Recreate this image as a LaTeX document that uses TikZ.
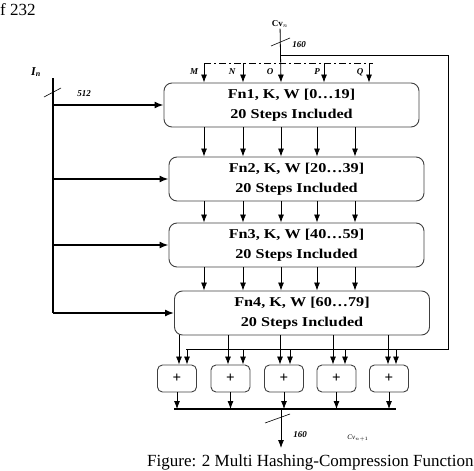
\documentclass[tikz,border=0pt]{standalone}
\usepackage{fontspec}
\setmainfont{Liberation Serif}
\usetikzlibrary{arrows.meta,calc}
\tikzstyle{fnbox}=[rectangle, rounded corners=8pt, draw=black!75, line width=0.9pt, minimum width=255pt, minimum height=44pt, inner sep=0pt, align=center, font=\fontsize{13.5}{20}\selectfont\bfseries\addfontfeature{FakeStretch=1.2}]
\tikzstyle{adder}=[rectangle, rounded corners=5pt, draw=black!75, line width=0.9pt, minimum width=39pt, minimum height=27pt, inner sep=0pt, font=\fontsize{15}{15}\selectfont\bfseries]
\tikzstyle{flow}=[-{Latex[length=8pt,width=6pt]}, line width=0.8pt]
\tikzstyle{feed}=[-{Latex[length=9pt,width=7pt]}, line width=1.6pt]
\tikzstyle{annot}=[inner sep=1pt, font=\fontsize{9}{9}\selectfont\bfseries\itshape]
\tikzstyle{pagetext}=[inner sep=0pt, anchor=base west, font=\fontsize{17}{17}\selectfont]

\begin{document}
\begin{tikzpicture}[x=1pt, y=-1pt]
	\useasboundingbox (0,0) rectangle (474,471);

	\node[pagetext] (page) at (0,15) {f 232};

	% the four rounds
	\node[fnbox] (fn1) at (291.5,105) {Fn1, K, W [0\ldots19]\\20 Steps Included};
	\node[fnbox] (fn2) at (296.5,179) {Fn2, K, W [20\ldots39]\\20 Steps Included};
	\node[fnbox] (fn3) at (296.5,245) {Fn3, K, W [40\ldots59]\\20 Steps Included};
	\node[fnbox] (fn4) at (302,313) {Fn4, K, W [60\ldots79]\\20 Steps Included};

	% adders
	\node[adder] (add1) at (177,378.5) {+};
	\node[adder] (add2) at (230.5,378.5) {+};
	\node[adder] (add3) at (284,378.5) {+};
	\node[adder] (add4) at (336.5,378.5) {+};
	\node[adder] (add5) at (389,378.5) {+};

	% chaining input
	\node[annot, font=\fontsize{9}{9}\selectfont\bfseries] (cvn) at (280,24) {Cv$_{n}$};
	\coordinate (split) at (281,55);
	\coordinate (ret) at (448,349);
	\draw[flow] (cvn) -- (fn1.north -| split);
	\draw[line width=0.6pt] (271,46) -- (290,38);
	\node[annot] (w160) at (299,45) {160};
	\draw[line width=0.8pt] (split) -| (ret) -- (186,349);

	% message words
	\draw[line width=0.7pt, dash pattern=on 7pt off 3pt on 2pt off 3pt] (204,63) -- (373,63);
	\draw[flow] (204,63) -- (fn1.north -| 204,0);
	\draw[flow] (243,63) -- (fn1.north -| 243,0);
	\draw[flow] (324,63) -- (fn1.north -| 324,0);
	\draw[flow] (369,63) -- (fn1.north -| 369,0);
	\node[annot] (wm) at (194,72) {M};
	\node[annot] (wn) at (232,72) {N};
	\node[annot] (wo) at (270,72) {O};
	\node[annot] (wp) at (317,72) {P};
	\node[annot] (wq) at (360,72) {Q};

	% between rounds
	\foreach \x in {204,243,281,317,355}
	{
		\draw[flow] (fn1.south -| \x,0) -- (fn2.north -| \x,0);
		\draw[flow] (fn2.south -| \x,0) -- (fn3.north -| \x,0);
		\draw[flow] (fn3.south -| \x,0) -- (fn4.north -| \x,0);
	}

	% message block
	\node[font=\fontsize{12}{12}\selectfont\bfseries\itshape] (in) at (36,72) {I\textsubscript{n}};
	\coordinate (bus) at (53,78);
	\draw[line width=1.5pt] (bus) -- (bus |- fn4.west);
	\draw[line width=0.6pt] (44,97) -- (61,88);
	\node[annot] (w512) at (84,94) {512};
	\draw[feed] (bus |- fn1.west) -- (fn1.west);
	\draw[feed] (bus |- fn2.west) -- (fn2.west);
	\draw[feed] (bus |- fn3.west) -- (fn3.west);
	\draw[feed] (bus |- fn4.west) -- (fn4.west);

	% into the adders
	\draw[flow] (fn4.south -| 179,0) -- (add1.north -| 179,0);
	\draw[flow] (fn4.south -| 228,0) -- (add2.north -| 228,0);
	\draw[flow] (fn4.south -| 280,0) -- (add3.north -| 280,0);
	\draw[flow] (fn4.south -| 333,0) -- (add4.north -| 333,0);
	\draw[flow] (fn4.south -| 388,0) -- (add5.north -| 388,0);
	\draw[flow] (187,349) -- (add1.north -| 187,0);
	\draw[flow] (243,349) -- (add2.north -| 243,0);
	\draw[flow] (290,349) -- (add3.north -| 290,0);
	\draw[flow] (345,349) -- (add4.north -| 345,0);
	\draw[flow] (396,349) -- (add5.north -| 396,0);

	% output
	\coordinate (busl) at (174,409);
	\coordinate (busr) at (396,409);
	\coordinate (out) at (281,448);
	\draw[line width=1.2pt] (busl) -- (busr);
	\draw[flow] (add1.south) -- (add1.south |- busl);
	\draw[flow] (add2.south) -- (add2.south |- busl);
	\draw[flow] (add3.south) -- (add3.south |- busl);
	\draw[flow] (add4.south) -- (add4.south |- busl);
	\draw[flow] (add5.south) -- (add5.south |- busl);
	\draw[flow] (out |- busl) -- (out);
	\draw[line width=0.6pt] (265,423) -- (290,414);
	\node[annot] (o160) at (300,435) {160};
	\node[annot, font=\fontsize{7}{7}\selectfont\itshape] (cvn1) at (358,438) {Cv$_{n+1}$};

	\node[pagetext] (caption) at (147,466) {Figure: 2 Multi Hashing-Compression Function};
\end{tikzpicture}
\end{document}
